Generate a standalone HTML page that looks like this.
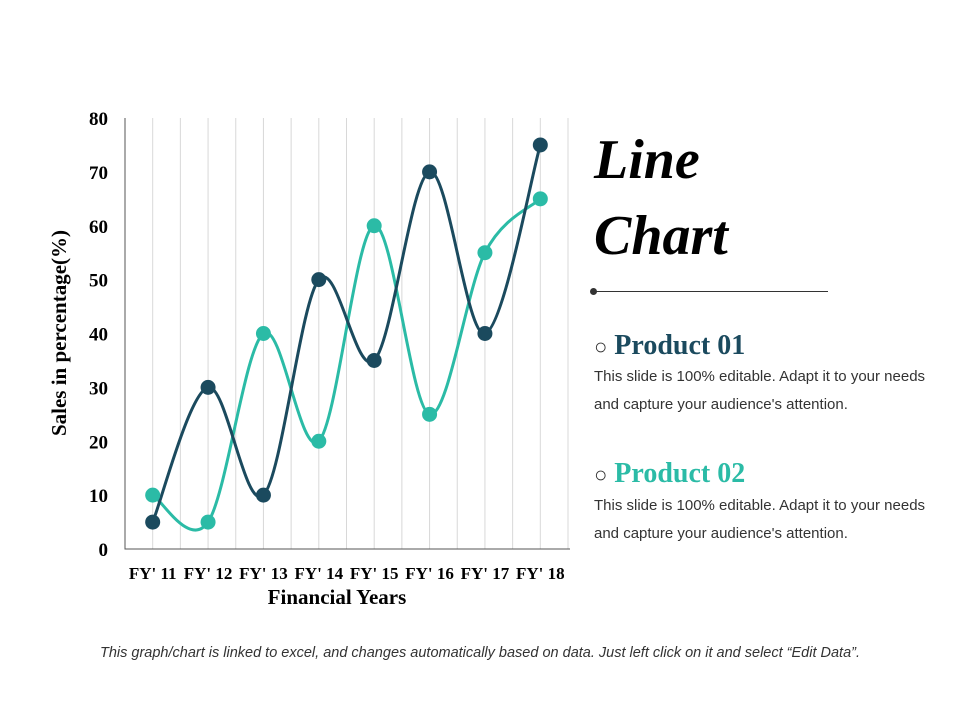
<!DOCTYPE html>
<html><head><meta charset="utf-8"><style>
body{margin:0;background:#fff;width:960px;height:720px;overflow:hidden;position:relative;font-family:"Liberation Sans",sans-serif}
.abs{position:absolute;margin:0}
.t{font-family:"Liberation Serif",serif;font-weight:bold;font-style:italic;font-size:56px;color:#000;left:594px;line-height:1}
.ph{font-family:"Liberation Serif",serif;font-weight:bold;font-size:28px;left:594px}
.ph span{font-weight:normal;font-size:22px;color:#333}
.desc{left:594px;font-size:15px;color:#333;line-height:28px;width:340px}
</style></head><body>
<svg class="abs" style="left:0;top:0" width="960" height="720">
<g id="grid"></g><g id="axes"></g><g id="lines"></g><g id="pts"></g><g id="labels"></g>
<text x="66" y="333" transform="rotate(-90 66 333)" text-anchor="middle" font-family="Liberation Serif,serif" font-weight="bold" font-size="21">Sales in percentage(%)</text>
<text x="337" y="604" text-anchor="middle" font-family="Liberation Serif,serif" font-weight="bold" font-size="21">Financial Years</text>
</svg>
<div class="abs t" style="top:132px">Line</div>
<div class="abs t" style="top:208px">Chart</div>
<div class="abs" style="left:594px;top:291px;width:234px;height:1px;background:#333"></div>
<div class="abs" style="left:590px;top:288px;width:7px;height:7px;border-radius:50%;background:#333"></div>
<div class="abs ph" style="top:330px;color:#1b4a5e"><span>○</span> Product 01</div>
<div class="abs desc" style="top:363px">This slide is 100% editable. Adapt it to your needs and capture your audience's attention.</div>
<div class="abs ph" style="top:458px;color:#2bbba6"><span>○</span> Product 02</div>
<div class="abs desc" style="top:492px">This slide is 100% editable. Adapt it to your needs and capture your audience's attention.</div>
<div class="abs" style="left:0;width:960px;top:645px;text-align:center;font-style:italic;font-size:14.5px;color:#333">This graph/chart is linked to excel, and changes automatically based on data. Just left click on it and select “Edit Data”.</div>
<script>
const categories=["FY' 11","FY' 12","FY' 13","FY' 14","FY' 15","FY' 16","FY' 17","FY' 18"];
const product01=[5,30,10,50,35,70,40,75];
const product02=[10,5,40,20,60,25,55,65];
const yTicks=[0,10,20,30,40,50,60,70,80];
const L=125,R=568,T=118,B=549,yMax=80;
const step=(R-L)/categories.length;
const xs=i=>L+step*(i+0.5);
const ys=v=>B-(v/yMax)*(B-T);
const NS="http://www.w3.org/2000/svg";
function mk(tag,attrs,parent){const e=document.createElementNS(NS,tag);for(const k in attrs)e.setAttribute(k,attrs[k]);document.getElementById(parent).appendChild(e);return e;}
for(let k=1;k<=categories.length*2;k++){const x=L+step/2*k;const g=mk('line',{x1:x,x2:x,y1:T,y2:B,stroke:'#d8d8d8','stroke-width':1},'grid');

}
const ax=mk('path',{d:`M${L} ${T}V${B}H${R+2}`,stroke:'#555',fill:'none','stroke-width':1},'axes');


yTicks.forEach(v=>{const t=mk('text',{x:108,y:ys(v)+7,'text-anchor':'end','font-family':'Liberation Serif,serif','font-weight':'bold','font-size':19},'labels');t.textContent=v;

});
categories.forEach((c,i)=>{const t=mk('text',{x:xs(i),y:579,'text-anchor':'middle','font-family':'Liberation Serif,serif','font-weight':'bold','font-size':17},'labels');t.textContent=c;

});
function smooth(vals){const p=vals.map((v,i)=>[xs(i),ys(v)]);let d=`M${p[0][0]} ${p[0][1]}`;
for(let i=0;i<p.length-1;i++){const p0=p[i-1]||p[i],p1=p[i],p2=p[i+1],p3=p[i+2]||p2;
const c1=[p1[0]+(p2[0]-p0[0])/6,p1[1]+(p2[1]-p0[1])/6],c2=[p2[0]-(p3[0]-p1[0])/6,p2[1]-(p3[1]-p1[1])/6];
d+=`C${c1[0]} ${c1[1]} ${c2[0]} ${c2[1]} ${p2[0]} ${p2[1]}`;}return d;}
[[product02,'#2bbba6','product-02'],[product01,'#1b4a5e','product-01']].forEach(([vals,col,nm])=>{
const l=mk('path',{d:smooth(vals),stroke:col,fill:'none','stroke-width':3},'lines');


vals.forEach((v,i)=>{const c=mk('circle',{cx:xs(i),cy:ys(v),r:7.5,fill:col},'pts');

});});
</script>
</body></html>
